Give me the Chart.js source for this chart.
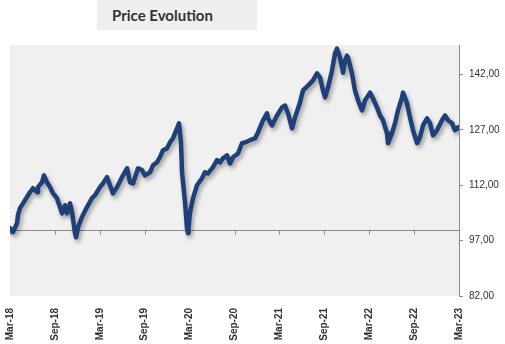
<!DOCTYPE html>
<html>
<head>
<meta charset="utf-8">
<script src="https://cdn.jsdelivr.net/npm/chart.js@4.4.0/dist/chart.umd.min.js"></script>
<style>
  html, body { margin: 0; padding: 0; background: #ffffff; }
  #wrap { position: relative; width: 505px; height: 344px; }
  #title {
    position: absolute; left: 97px; top: 0px; width: 160px; height: 30px;
    background: #efefef; color: #333333;
    font-family: "Lato", "Open Sans", sans-serif; font-weight: bold; font-size: 15px;
    line-height: 30px; text-indent: 15px; box-sizing: border-box;
  }
  canvas { position: absolute; left: 0; top: 0; }
</style>
</head>
<body>
<div id="wrap">
  <canvas id="c" width="505" height="344"></canvas>
  <div id="title">Price Evolution</div>
</div>
<script>
// months since Mar-2018
const months = [0,0.40,0.94,1.07,1.34,1.74,2.27,2.67,3.07,3.61,3.74,4.28,4.54,4.94,5.35,5.75,6.28,6.68,6.95,7.35,7.62,8.02,8.29,8.69,8.82,9.09,9.62,10.29,10.96,11.36,12.03,12.43,12.96,13.36,13.76,14.30,14.70,15.10,15.64,16.04,16.44,17.11,17.64,18.04,18.71,19.11,19.64,20.05,20.45,20.98,21.38,21.78,22.32,22.58,22.85,22.99,23.39,23.65,23.79,24.05,24.46,24.99,25.66,26.06,26.46,27.13,27.66,28.06,28.46,29.00,29.40,29.80,30.47,31.00,31.40,32.07,32.74,33.14,33.81,34.34,34.48,35.01,35.68,36.35,36.75,37.15,37.69,38.09,38.75,39.16,39.82,40.49,41.03,41.43,41.83,42.10,42.50,43.03,43.43,43.70,44.10,44.50,44.77,45.04,45.17,45.70,46.10,46.51,47.04,47.44,48.11,48.51,49.04,49.45,49.85,50.38,50.51,51.05,51.45,51.85,52.39,52.52,53.05,53.45,53.86,54.39,54.79,55.19,55.73,56.13,56.53,57.06,57.73,58.13,58.53,59.07,59.47,59.87,60];
const prices = [100.4,99.3,101.7,103.9,105.8,107.1,108.8,110.1,111.2,110.1,111.5,112.8,114.7,112.8,111.5,109.8,108.5,106.1,104.4,106.6,104.4,107.1,104.7,99.0,97.9,100.6,103.4,106.1,108.5,109.3,111.5,112.5,114.2,112.0,109.8,111.5,113.1,114.7,116.6,112.8,112.5,116.6,116.1,114.7,115.5,117.4,118.2,119.6,121.5,122.0,123.6,124.7,127.4,128.8,123.6,115.5,107.4,100.4,99.0,104.7,108.5,112.0,113.9,115.5,115.2,116.9,118.8,118.2,119.3,120.1,117.9,119.6,120.6,123.4,123.6,124.2,124.7,126.3,129.6,131.5,130.1,128.2,130.9,133.1,133.6,131.5,127.4,130.4,134.4,137.7,139.0,140.4,142.3,141.2,137.7,135.8,138.5,143.1,147.7,149.0,146.6,142.5,145.8,147.1,146.6,142.3,137.7,135.0,132.3,135.0,137.1,135.5,133.1,130.9,129.6,126.1,123.4,126.1,128.8,132.3,135.8,137.1,134.2,130.4,126.9,123.4,125.0,128.2,130.1,128.8,125.5,126.9,129.6,130.9,129.6,128.8,126.9,127.7,127.4];
const xTickLabels = ["Mar-18","Sep-18","Mar-19","Sep-19","Mar-20","Sep-20","Mar-21","Sep-21","Mar-22","Sep-22","Mar-23"];
const yTickValues = [82,97,112,127,142];
const baseLevel = 100;

const points = months.map((m, i) => ({ x: m, y: prices[i] }));

const bgPlugin = {
  id: 'bg',
  beforeDraw(chart) {
    const { ctx, chartArea: a } = chart;
    ctx.save();
    ctx.fillStyle = '#f0f0f0';
    ctx.fillRect(a.left, a.top, a.right - a.left, a.bottom - a.top);
    ctx.restore();
  },
  beforeDatasetsDraw(chart) {
    const { ctx, chartArea: a, scales } = chart;
    const y = Math.round(scales.y.getPixelForValue(baseLevel)) + 0.5;
    ctx.save();
    ctx.strokeStyle = '#8a8a8a';
    ctx.lineWidth = 1;
    ctx.beginPath();
    ctx.moveTo(a.left, y); ctx.lineTo(a.right, y);
    scales.x.ticks.forEach(t => {
      const x = Math.round(scales.x.getPixelForValue(t.value)) + 0.5;
      ctx.moveTo(x, y); ctx.lineTo(x, y + 4);
    });
    ctx.stroke();
    ctx.restore();
  },
  beforeDatasetDraw(chart) {
    const ctx = chart.ctx;
    ctx.save();
    ctx.shadowColor = 'rgba(0,0,0,0.35)';
    ctx.shadowBlur = 4;
    ctx.shadowOffsetX = 2;
    ctx.shadowOffsetY = 3;
  },
  afterDatasetDraw(chart) {
    chart.ctx.restore();
  }
};

new Chart(document.getElementById('c'), {
  type: 'line',
  data: {
    datasets: [{
      data: points,
      borderColor: '#1f3f78',
      borderWidth: 4.5,
      borderJoinStyle: 'round',
      borderCapStyle: 'round',
      pointRadius: 0,
      tension: 0,
      fill: false
    }]
  },
  options: {
    responsive: false,
    animation: false,
    layout: { padding: { left: 10, top: 45, right: 0, bottom: 0 } },
    plugins: { legend: { display: false }, tooltip: { enabled: false }, title: { display: false } },
    scales: {
      x: {
        type: 'linear', min: 0, max: 60,
        afterBuildTicks: s => { s.ticks = xTickLabels.map((l, i) => ({ value: i * 6 })); },
        afterFit: s => { s.height = 48; },
        grid: { display: false },
        border: { display: false },
        ticks: {
          autoSkip: false, maxRotation: 90, minRotation: 90, padding: 4,
          color: '#333333',
          font: { family: 'Liberation Sans', size: 10, weight: 'bold' },
          callback: (v) => xTickLabels[Math.round(v / 6)]
        }
      },
      y: {
        position: 'right', min: 82, max: 150,
        afterBuildTicks: s => { s.ticks = yTickValues.map(v => ({ value: v })); },
        afterFit: s => { s.width = 46; },
        grid: { drawOnChartArea: false, drawTicks: true, tickLength: 4, color: '#8a8a8a' },
        border: { display: true, color: '#8a8a8a' },
        ticks: {
          padding: 6, color: '#333333',
          font: { family: 'Liberation Sans', size: 10 },
          callback: v => v.toFixed(2).replace('.', ',')
        }
      }
    }
  },
  plugins: [bgPlugin]
});
</script>
</body>
</html>
